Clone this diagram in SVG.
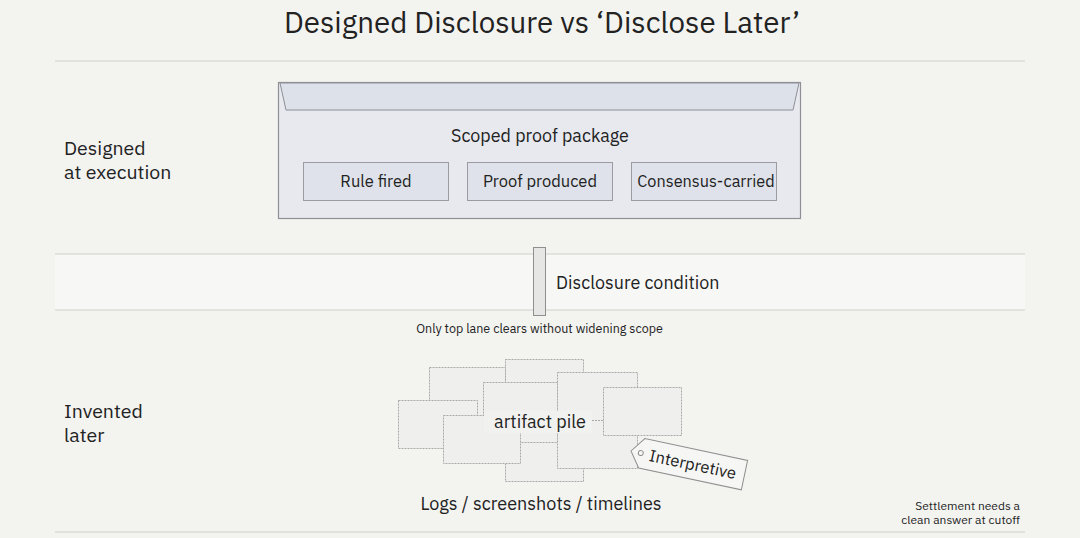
<svg xmlns="http://www.w3.org/2000/svg" width="1080" height="538" viewBox="0 0 1080 538">
<style>
text{font-family:"IBM Plex Sans","Noto Sans","Liberation Sans",sans-serif;fill:#222}
.lane{stroke:#cfcfcb;stroke-width:1.2}
.inner{fill:#dfe2ea;stroke:#9a9ca2;stroke-width:1}
.card{fill:#efefed;stroke:#a9a9a9;stroke-width:1;stroke-dasharray:2 1}
</style>
<rect width="1080" height="538" fill="#f3f3f0"/>
<rect x="55" y="254" width="970" height="56" fill="#f7f7f5"/>
<g id="lanes">
<line class="lane" x1="55" y1="61" x2="1025" y2="61"/>
<line class="lane" x1="55" y1="254" x2="1025" y2="254"/>
<line class="lane" x1="55" y1="310" x2="1025" y2="310"/>
<line class="lane" x1="55" y1="532" x2="1025" y2="532"/>
</g>
<text x="542" y="33" font-size="29.5" text-anchor="middle">Designed Disclosure vs ‘Disclose Later’</text>
<g id="label-designed"><text x="64" y="155" font-size="19.5">Designed</text><text x="64" y="179" font-size="19.5">at execution</text></g>
<g id="label-invented"><text x="64" y="418" font-size="19.5">Invented</text><text x="64" y="442" font-size="19.5">later</text></g>
<g id="envelope">
<rect x="278.5" y="82.5" width="522" height="136" fill="#e7e9ef" stroke="#8e9096" stroke-width="1.2"/>
<polygon points="280,83 799,83 793,110 286,110" fill="#dde1ea" stroke="#8e9096" stroke-width="1"/>
<text x="540" y="142" font-size="17.9" text-anchor="middle">Scoped proof package</text>
</g>
<g id="rule-fired"><rect class="inner" x="303.5" y="162.5" width="145" height="38"/><text x="376" y="187" font-size="16.5" text-anchor="middle">Rule fired</text></g>
<g id="proof-produced"><rect class="inner" x="467.5" y="162.5" width="145" height="38"/><text x="540" y="187" font-size="16.5" text-anchor="middle">Proof produced</text></g>
<g id="consensus-carried"><rect class="inner" x="631.5" y="162.5" width="145" height="38"/><text x="706" y="187" font-size="16.3" text-anchor="middle">Consensus-carried</text></g>
<g id="disclosure-condition">
<rect x="533.5" y="247.5" width="12" height="68" fill="#e6e6e4" stroke="#8f8f8f" stroke-width="1"/>
<text x="556" y="289" font-size="17.9">Disclosure condition</text>
<text x="539.5" y="333" font-size="12.5" text-anchor="middle">Only top lane clears without widening scope</text>
</g>
<g id="artifact-pile">
<rect class="card" x="505.5" y="359.5" width="78" height="122"/>
<rect class="card" x="429.5" y="367.5" width="76" height="60"/>
<rect class="card" x="557.5" y="372.5" width="80" height="96"/>
<rect class="card" x="483.5" y="382.5" width="74" height="60"/>
<rect class="card" x="603.5" y="387.5" width="78" height="48"/>
<rect class="card" x="398.5" y="400.5" width="79" height="48"/>
<rect class="card" x="443.5" y="415.5" width="77" height="48"/>
<line x1="592" y1="420.5" x2="603" y2="420.5" stroke="#a9a9a9" stroke-width="1" stroke-dasharray="2 1"/>
<rect x="484" y="411" width="108" height="22" fill="#f1f1ef"/>
<text x="540" y="428" font-size="18" text-anchor="middle">artifact pile</text>
<text x="541" y="510" font-size="18" text-anchor="middle">Logs / screenshots / timelines</text>
</g>
<g id="interpretive-tag" transform="translate(631,451) rotate(12)">
<polygon points="0,0 11,-15 116,-15 116,15 11,15" fill="#f6f6f4" stroke="#8f8f8f" stroke-width="1"/>
<circle cx="10" cy="0" r="2.5" fill="none" stroke="#8f8f8f" stroke-width="1"/>
<text x="19" y="6" font-size="16.5">Interpretive</text>
</g>
<g id="note">
<text x="1020" y="510" font-size="12" text-anchor="end">Settlement needs a</text>
<text x="1020" y="524" font-size="12" text-anchor="end">clean answer at cutoff</text>
</g>
</svg>
